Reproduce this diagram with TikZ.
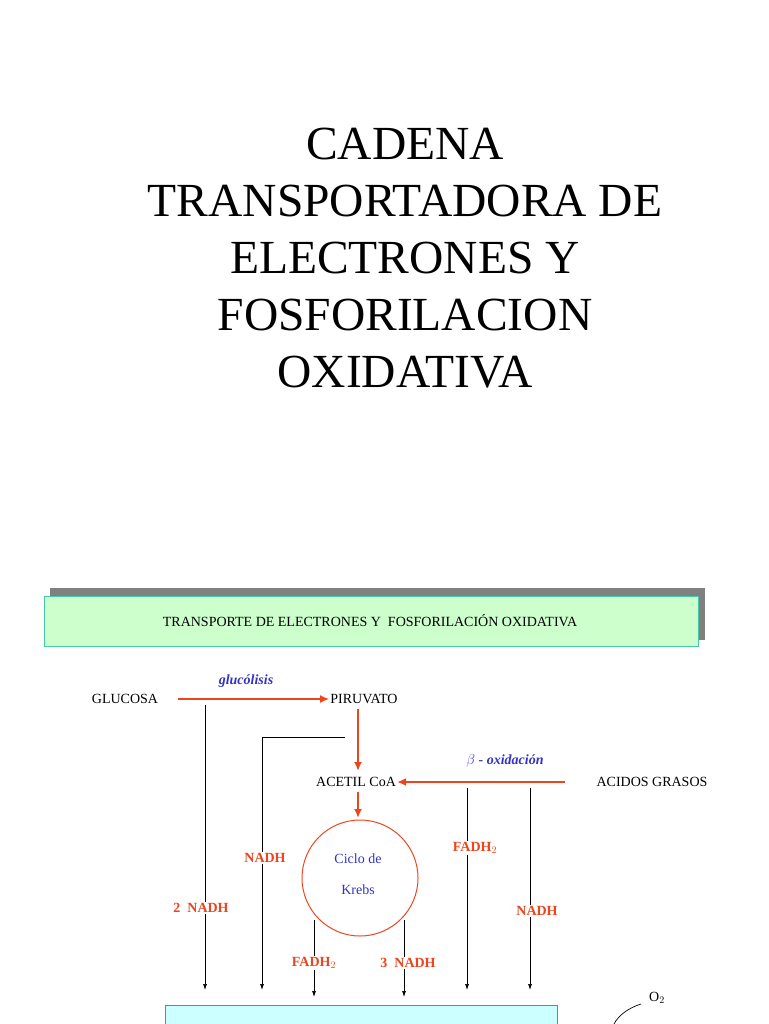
\documentclass[tikz,border=0pt]{standalone}
\usepackage{fontspec}
\setmainfont{Liberation Serif}
\usetikzlibrary{arrows.meta}
\begin{document}
\begin{tikzpicture}[x=1pt,y=-1pt,
  lbl/.style={font=\fontsize{14}{16}\selectfont,inner sep=1pt},
  rl/.style={lbl,text={rgb,255:red,235;green,70;blue,30},font=\fontsize{14}{16}\selectfont\bfseries,fill=white},
  bl/.style={lbl,text={rgb,255:red,50;green,50;blue,200}},
  rarr/.style={draw={rgb,255:red,235;green,70;blue,30},line width=2pt,-{Latex[length=9pt,width=8pt]}},
  karr/.style={draw,-{Latex[length=6pt,width=4pt]},line width=0.7pt}]
\useasboundingbox (0,0) rectangle (768,1024);
\clip (0,0) rectangle (768,1024);
\node[align=center,font=\fontsize{47.5}{57}\selectfont] (title) at (405,258)
  {CADENA\hspace{1.6em}\\TRANSPORTADORA DE\\ELECTRONES Y\\FOSFORILACION\\OXIDATIVA};
\fill[gray] (50,588) rectangle (705,640);
\draw[fill={rgb,255:red,204;green,255;blue,204},draw={rgb,255:red,70;green,200;blue,170},line width=1pt] (44,596) rectangle (698,646);
\node[lbl] (ban) at (370,621) {TRANSPORTE DE ELECTRONES Y\ \ FOSFORILACIÓN OXIDATIVA};
\node[lbl] (glu) at (125,699) {GLUCOSA};
\node[lbl] (pir) at (364,699) {PIRUVATO};
\node[bl,font=\fontsize{14}{16}\selectfont\itshape\bfseries] (gl) at (246,681) {glucólisis};
\draw[rarr] (178,699) -- (pir.west);
\node[lbl] (ace) at (356,782) {ACETIL CoA};
\node[lbl] (ag) at (652,782) {ACIDOS GRASOS};
\node[bl,font=\fontsize{14}{16}\selectfont\itshape\bfseries] (bo) at (505,761) {$\beta$ - oxidación};
\draw[rarr] (565,782) -- (ace.east);
\draw[rarr] (358,709) -- (358,771);
\draw[rarr] (358,792) -- (358,818);
\node[circle,draw={rgb,255:red,235;green,70;blue,30},line width=1pt,minimum size=116pt] (kr) at (360,878) {};
\node[bl] (c1) at (358,859) {Ciclo de};
\node[bl] (c2) at (358,890) {Krebs};
\draw[fill={rgb,255:red,204;green,255;blue,255},draw=gray,line width=1pt] (165,1005) rectangle (557,1040);
\node[lbl,font=\fontsize{15}{16}\selectfont] (ct) at (361,1031) {CADENA DE TRANSPORTE DE ELECTRONES};
\coordinate (b1) at (205,990); \coordinate (b2) at (262,990);
\coordinate (b3) at (314,997); \coordinate (b4) at (404,997);
\coordinate (b5) at (467,990); \coordinate (b6) at (530,990);
\draw[karr] (205,705) -- (b1);
\draw[line width=0.7pt] (345,737) -- (262,737);
\draw[karr] (262,737) -- (b2);
\draw[karr] (314,920) -- (b3);
\draw[karr] (404,920) -- (b4);
\draw[karr] (467,788) -- (b5);
\draw[karr] (530,788) -- (b6);
\node[rl] (n1) at (201,908) {2\ \ NADH};
\node[rl] (n2) at (265,858) {NADH};
\node[rl] (n3) at (314,963) {FADH$_2$};
\node[rl] (n4) at (408,963) {3\ \ NADH};
\node[rl] (n5) at (475,848) {FADH$_2$};
\node[rl] (n6) at (537,911) {NADH};
\node[lbl] (o2) at (657,998) {O$_2$};
\draw[line width=0.7pt] (641,1004) .. controls (628,1008) and (618,1016) .. (614,1024);
\end{tikzpicture}
\end{document}
